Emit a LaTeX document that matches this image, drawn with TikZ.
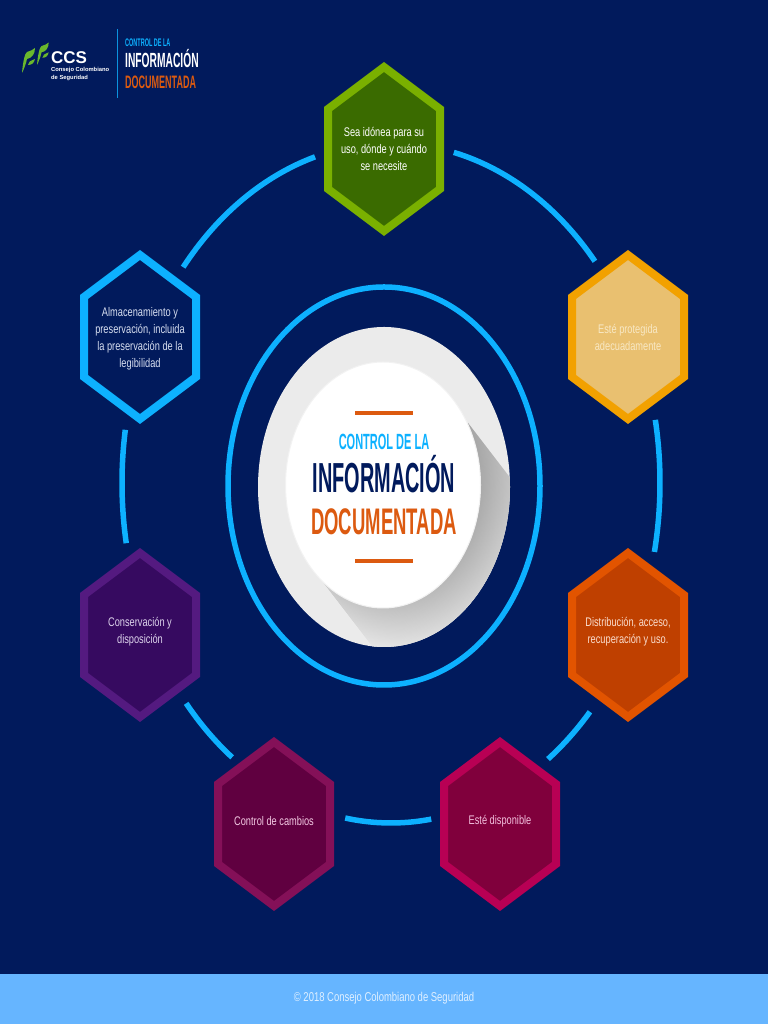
\documentclass[tikz,border=0pt]{standalone}
\usepackage{fontspec}
\setmainfont[FakeStretch=0.74]{Liberation Sans}
\newfontfamily\titlefont[FakeStretch=0.5]{Liberation Sans Bold}
\newfontfamily\bigtitlefont[FakeStretch=0.474]{Liberation Sans Bold}
\newfontfamily\logofont{Liberation Sans Bold}
\usepackage{xcolor}
\usetikzlibrary{positioning,shapes.geometric}
\definecolor{navy}{HTML}{011A5C}
\definecolor{skyb}{HTML}{0DB1FF}
\definecolor{footb}{HTML}{66B5FF}
\definecolor{rust}{HTML}{DC5A10}
\definecolor{leafg}{HTML}{6AB82C}
\pgfdeclareradialshading{discglow}{\pgfpoint{0bp}{0bp}}{color(0bp)=(black!40); color(19bp)=(black!38); color(25bp)=(black!12); color(50bp)=(black!12)}
\tikzstyle{hexa} = [align=center, inner sep=0pt, font=\fontsize{12.5}{17}\selectfont]
\tikzstyle{hexline} = [line width=8pt, miter limit=10]
\tikzstyle{ring} = [skyb, line width=5.5pt]
\tikzstyle{bar} = [rust, line width=4pt]
\newcommand{\hexnode}[5]{
	\path [hexline, #3] (#2) ++(0,82) -- ++(56,-42) -- ++(0,-80) -- ++(-56,-42) -- ++(-56,42) -- ++(0,80) -- cycle;
	\node [hexa, #4] (#1) at (#2) {#5};
}
\begin{document}
\begin{tikzpicture}[x=1pt,y=1pt]
	\fill [navy] (0,0) rectangle (768,1024);
	\fill [footb] (0,0) rectangle (768,50);
	\node [text=white!80!footb, font=\fontsize{12.8}{14}\selectfont] (foot) at (384,26) {© 2018 Consejo Colombiano de Seguridad};

	% logo
	\foreach \s/\x/\y in {1/22/951, .9/37/959} {
		\fill [leafg, shift={(\x,\y)}, scale=\s] (0,0) .. controls (1,12) and (3,20) .. (5,21) .. controls (8,22) and (11,23) .. (13,25) .. controls (13,19) and (10,15) .. (5,14) .. controls (4,9) and (2,4) .. (0,0);
		\fill [leafg, shift={(\x,\y)}, scale=\s] (6,8) .. controls (6,11) and (8,12) .. (13,14) .. controls (12,10) and (10,8) .. (6,8);
	}
	\node [text=white, font=\logofont\fontsize{17}{17}\selectfont, inner sep=0pt, anchor=west] (ccs) at (51,966) {CCS};
	\node [text=white, font=\logofont\fontsize{5.8}{7.5}\selectfont, inner sep=0pt, align=left, below=3pt of ccs.south west, anchor=north west] (consejo) {Consejo Colombiano\\de Seguridad};
	\draw [skyb!80!navy, line width=1pt] (117,995) -- (117,926);
	\node [text=skyb, font=\titlefont\fontsize{11}{11}\selectfont, inner sep=0pt, anchor=base west] (logo1) at (125,977) {CONTROL DE LA};
	\node [text=white, font=\titlefont\fontsize{20.5}{20}\selectfont, inner sep=0pt, anchor=base west] (logo2) at (125,956) {INFORMACIÓN};
	\node [text=rust, font=\titlefont\fontsize{18}{18}\selectfont, inner sep=0pt, anchor=base west] (logo3) at (125,935) {DOCUMENTADA};

	% outer ring
	\coordinate (ringc) at (391,541);
	\foreach \a/\b in {106.4/140.6, 76.5/40.7, 10.7/-11.7, -42.3/-54.3, -81.4/-99.8, -126.2/-139.6, 171/190.2}
		\draw [ring] ([shift={(\a:269pt and 340pt)}]ringc) arc [start angle=\a, end angle=\b, x radius=269pt, y radius=340pt];

	% centre
	\node [ellipse, draw=skyb, line width=5.5pt, minimum width=312pt, minimum height=398pt] (inner) at (384,538) {};
	\node [ellipse, fill=black!8, minimum width=252pt, minimum height=320pt, inner sep=0pt] (disc) at (384,537) {};
	\begin{scope}
		\clip (384,537) ellipse [x radius=126pt, y radius=160pt];
		\clip (468,601) -- (568,471) -- (500,300) -- (423,312) -- (323,442) -- cycle;
		\shade [shading=discglow] (384,537) ellipse [x radius=126pt, y radius=160pt];
		\shade [left color=black!36, right color=black!4, shading angle=307, opacity=.55] (468,601) -- (568,471) -- (500,300) -- (423,312) -- (323,442) -- cycle;
	\end{scope}
	\node [ellipse, fill=white, draw=black!5, line width=1pt, minimum width=195pt, minimum height=246pt, inner sep=0pt] (front) at (383,539) {};
	\draw [bar] (355,611) -- (413,611);
	\draw [bar] (355,463) -- (413,463);
	\node [text=skyb, font=\titlefont\fontsize{22}{22}\selectfont, inner sep=0pt, anchor=base] (title1) at (384,574) {CONTROL DE LA};
	\node [text=navy, font=\bigtitlefont\fontsize{42}{42}\selectfont, inner sep=0pt, anchor=base] (title2) at (384,531) {INFORMACIÓN};
	\node [text=rust, font=\titlefont\fontsize{37}{37}\selectfont, inner sep=0pt, anchor=base] (title3) at (384,489) {DOCUMENTADA};

	% hexagons
	\hexnode{idonea}{384,875}{draw={rgb,255:red,122;green,176;blue,0}, fill={rgb,255:red,58;green,107;blue,0}}{text=white}{Sea idónea para su\\uso, dónde y cuándo\\se necesite}
	\hexnode{protegida}{628,687}{draw={rgb,255:red,242;green,161;blue,0}, fill={rgb,255:red,233;green,192;blue,112}}{text={rgb,255:red,248;green,232;blue,196}}{Esté protegida\\adecuadamente}
	\hexnode{acceso}{628,389}{draw={rgb,255:red,226;green,84;blue,0}, fill={rgb,255:red,191;green,64;blue,0}}{text={rgb,255:red,250;green,220;blue,205}, yshift=3pt}{Distribución, acceso,\\recuperación y uso.}
	\hexnode{disponible}{500,200}{draw={rgb,255:red,184;green,0;blue,84}, fill={rgb,255:red,128;green,0;blue,60}}{text={rgb,255:red,242;green,190;blue,220}, yshift=3pt}{Esté disponible}
	\hexnode{cambios}{274,200}{draw={rgb,255:red,132;green,16;blue,88}, fill={rgb,255:red,96;green,0;blue,64}}{text={rgb,255:red,242;green,200;blue,226}, yshift=3pt}{Control de cambios}
	\hexnode{conserva}{140,389}{draw={rgb,255:red,84;green,26;blue,128}, fill={rgb,255:red,54;green,10;blue,96}}{text={rgb,255:red,220;green,210;blue,235}, yshift=3pt}{Conservación y\\disposición}
	\hexnode{almacena}{140,687}{draw=skyb, fill=navy}{text={rgb,255:red,215;green,222;blue,240}, yshift=-2pt}{Almacenamiento y\\preservación, incluida\\la preservación de la\\legibilidad}
\end{tikzpicture}
\end{document}
